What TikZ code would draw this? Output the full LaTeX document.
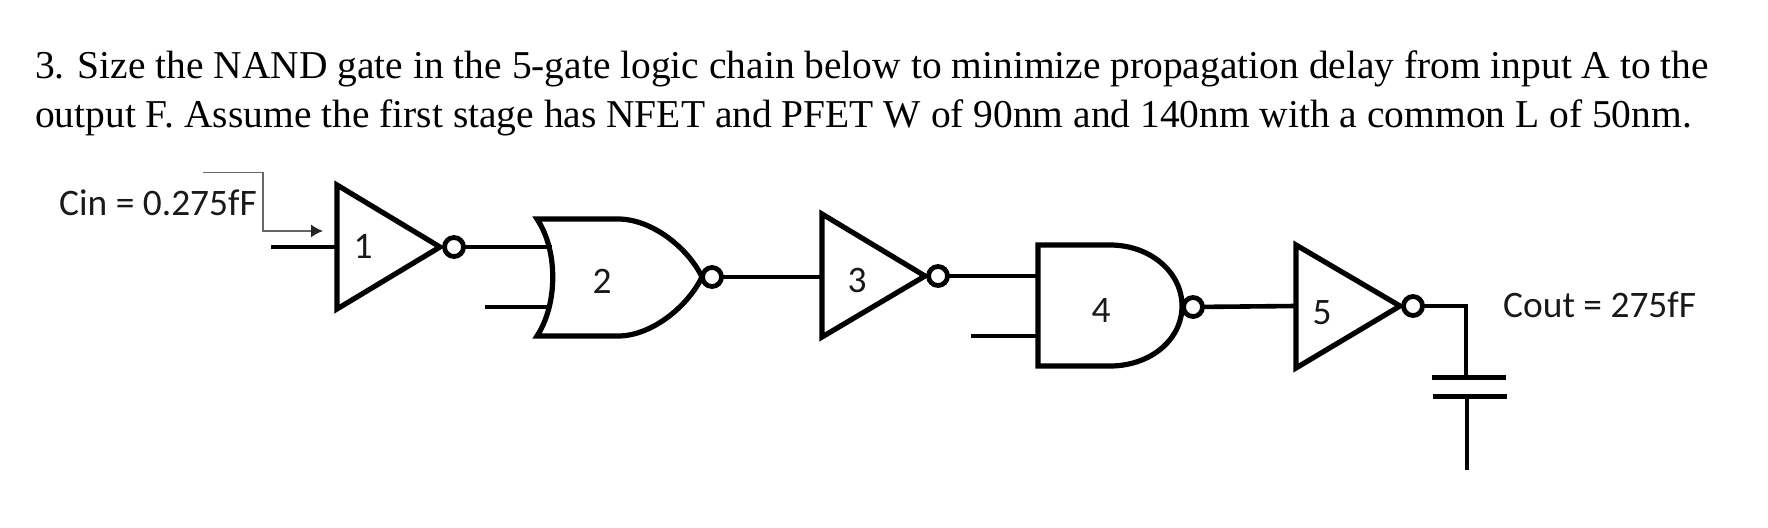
\documentclass[tikz,border=0pt]{standalone}
\usepackage{fontspec}
\setmainfont{Liberation Serif}
\newfontfamily\labelfont{Carlito}
\usetikzlibrary{arrows.meta}
\tikzset{
  gate/.style={draw=black,line width=5.2pt,line join=miter,fill=white},
  wire/.style={draw=black,line width=4.6pt},
  plate/.style={draw=black,line width=5pt},
  bubble/.style={circle,draw=black,line width=4.8pt,fill=white,minimum size=19pt,inner sep=0pt,outer sep=0pt},
  title/.style={anchor=base west,inner sep=0pt,font=\fontsize{39.47}{44}\selectfont},
  lab/.style={anchor=base,inner sep=0pt,font=\labelfont\fontsize{37.4}{40}\selectfont,text=black!90},
  callout/.style={draw=black!60,line width=1.5pt},
}
\begin{document}
\begin{tikzpicture}[x=1pt,y=-1pt]
\useasboundingbox (0,0) rectangle (1768,527);
\node[title] (line1) at (35,78) {3. Size the NAND gate in the 5-gate logic chain below to minimize propagation delay from input A to the};
\node[title] (line2) at (35,127) {output F. Assume the first stage has NFET and PFET W of 90nm and 140nm with a common L of 50nm.};
% named points
\coordinate (in1) at (271,247);
\coordinate (i1) at (337,247);
\coordinate (g2a) at (552,248);
\coordinate (g2bs) at (485,307);
\coordinate (g2b) at (552,307);
\coordinate (i3) at (822,277);
\coordinate (g4a) at (1038,276);
\coordinate (g4bs) at (971,336);
\coordinate (g4b) at (1038,336);
\coordinate (i5) at (1296,306);
\coordinate (corner) at (1466,306);
\coordinate (capa) at (1466,377);
\coordinate (capb) at (1467,396);
\coordinate (gnd) at (1467,470);
\coordinate (p1l) at (1432,377);
\coordinate (p1r) at (1506,377);
\coordinate (p2l) at (1433,396);
\coordinate (p2r) at (1507,396);
\coordinate (cs) at (203,172.5);
\coordinate (c1) at (263,172.5);
\coordinate (c2) at (263,231);
\coordinate (ce) at (323,231);
% wires
\draw[wire] (in1) -- (i1);
\draw[wire] (g2bs) -- (g2b);
\draw[wire] (g4bs) -- (g4b);
% gates
\draw[gate] (337,185) -- (337,309) -- (440,247) -- cycle;
\draw[gate] (537,219) -- (618,219) .. controls (652,219) and (688,248) .. (702,277)
  .. controls (688,306) and (652,336) .. (618,336) -- (537,336)
  .. controls (558,304) and (558,250) .. (537,219) -- cycle;
\draw[gate] (822,214) -- (822,337) -- (925,276) -- cycle;
\draw[gate] (1038,245) -- (1110,245) .. controls (1150,245) and (1182,272) .. (1182,306)
  .. controls (1182,340) and (1150,366) .. (1110,366) -- (1038,366) -- cycle;
\draw[gate] (1296,245) -- (1296,368) -- (1400,306) -- cycle;
% bubbles
\node[bubble] (b1) at (454,247) {};
\node[bubble] (b2) at (712,277) {};
\node[bubble] (b3) at (938,276) {};
\node[bubble] (b4) at (1193,307) {};
\node[bubble] (b5) at (1413,306) {};
% connecting wires
\draw[wire] (b1) -- (g2a |- b1);
\draw[wire] (b2) -- (i3);
\draw[wire] (b3) -- (g4a);
\draw[wire] (b4) -- (i5);
\draw[wire,line join=miter] (b5) -- (corner) -- (capa);
\draw[wire] (capb) -- (gnd);
\draw[plate] (p1l) -- (p1r);
\draw[plate] (p2l) -- (p2r);
% callout
\draw[callout,-{Latex[length=12pt,width=13pt,color=black!85]}] (cs) -- (c1) -- (c2) -- (ce);
% labels
\node[lab] (n1) at (363,258) {1};
\node[lab] (n2) at (602,293) {2};
\node[lab] (n3) at (857,292) {3};
\node[lab] (n4) at (1101,322) {4};
\node[lab] (n5) at (1322,324) {5};
\node[lab,anchor=base west] (cin) at (59,215) {Cin = 0.275fF};
\node[lab,anchor=base west] (cout) at (1503,317) {Cout = 275fF};
\end{tikzpicture}
\end{document}
